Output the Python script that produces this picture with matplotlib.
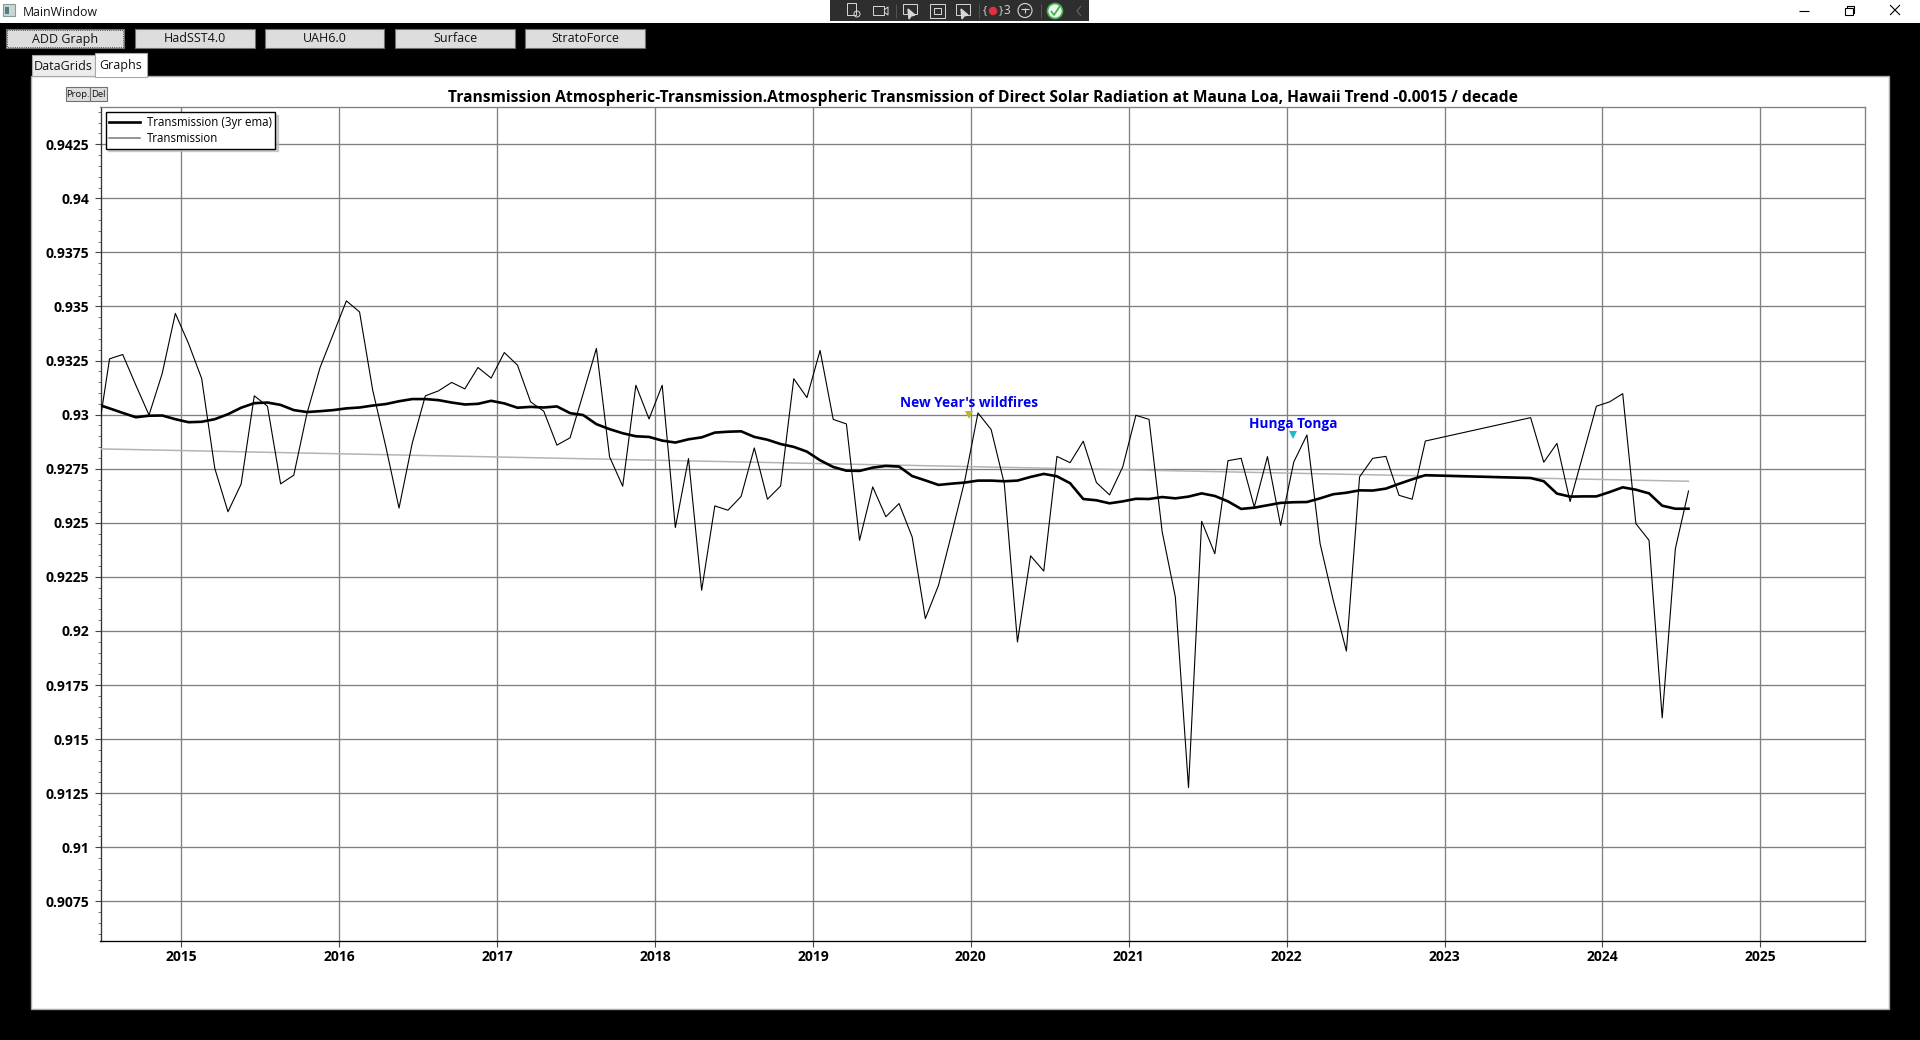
import matplotlib
matplotlib.use('Agg')
import matplotlib.pyplot as plt
import numpy as np
from matplotlib.lines import Line2D
from matplotlib.patches import Rectangle, Polygon, Circle
from matplotlib.ticker import MultipleLocator, FuncFormatter

plt.rcParams['font.family'] = ['Open Sans', 'DejaVu Sans']

# monthly readings, None = month with no data (gap late 2022 - mid 2023)
start_year = 2014.462
transmission = [
    0.9286, 0.93258, 0.93278, 0.93136, 0.92998, 0.9319, 0.93468, 0.93329, 0.93167, 0.92751,
    0.92551, 0.92679, 0.93087, 0.93039, 0.9268, 0.9272, 0.93005, 0.93218, 0.93372, 0.93526,
    0.93475, 0.93113, 0.92851, 0.92568, 0.92867, 0.93087, 0.9311, 0.93149, 0.93119, 0.93218,
    0.93169, 0.93287, 0.93229, 0.93059, 0.93016, 0.92859, 0.92893, 0.93098, 0.93306, 0.92805,
    0.92669, 0.93136, 0.9298, 0.93136, 0.92478, 0.92797, 0.92188, 0.92578, 0.92558, 0.92622,
    0.92846, 0.92609, 0.9267, 0.93166, 0.93079, 0.93297, 0.92978, 0.92957, 0.92419, 0.92666,
    0.92528, 0.92589, 0.92434, 0.92057, 0.92211, 0.9245, 0.92696, 0.93008, 0.92931, 0.92681,
    0.91949, 0.92347, 0.92277, 0.92807, 0.92778, 0.92877, 0.92686, 0.92629, 0.92758, 0.92997,
    0.92978, 0.92458, 0.92157, 0.91276, 0.92507, 0.92357, 0.92787, 0.92798, 0.92573, 0.92806,
    0.92488, 0.92781, 0.92906, 0.92404, 0.92142, 0.91907, 0.92712, 0.92798, 0.92807, 0.92627,
    0.92609, 0.92878, None, None, None, None, None, None, None, 0.92986,
    0.9278, 0.92867, 0.92598, 0.92818, 0.93039, 0.93059, 0.93097, 0.92496, 0.92419, 0.91598,
    0.9238, 0.92647,
]
transmission_ema = [
    0.93049, 0.93029, 0.93008, 0.92988, 0.92995, 0.92996, 0.92979, 0.92965, 0.92967, 0.92979,
    0.93002, 0.93032, 0.93053, 0.93056, 0.93045, 0.93021, 0.93012, 0.93016, 0.93021, 0.93029,
    0.93033, 0.93042, 0.93049, 0.93062, 0.93072, 0.93072, 0.93067, 0.93056, 0.93047, 0.9305,
    0.93064, 0.93052, 0.93032, 0.93036, 0.93033, 0.93038, 0.93007, 0.92998, 0.92956, 0.92933,
    0.92914, 0.929, 0.92897, 0.9288, 0.92871, 0.92886, 0.92895, 0.92917, 0.92921, 0.92923,
    0.92897, 0.92884, 0.92864, 0.92851, 0.92829, 0.92789, 0.92758, 0.92741, 0.9274, 0.92755,
    0.92763, 0.9276, 0.92716, 0.92696, 0.92675, 0.92681, 0.92686, 0.92695, 0.92695, 0.92692,
    0.92695, 0.92712, 0.92726, 0.92715, 0.92683, 0.9261, 0.92604, 0.9259, 0.92599, 0.92611,
    0.9261, 0.92619, 0.92613, 0.92621, 0.92636, 0.92624, 0.92599, 0.92564, 0.9257, 0.92581,
    0.92592, 0.92595, 0.92596, 0.92613, 0.92632, 0.92639, 0.9265, 0.92649, 0.92658, 0.9268,
    0.92701, 0.9272, None, None, None, None, None, None, None, 0.92707,
    0.92692, 0.92635, 0.92621, 0.92622, 0.92622, 0.92642, 0.92664, 0.92653, 0.92636, 0.92579,
    0.92565, 0.92565,
]
trend_years = [2014.462, 2024.545]
trend_values = [0.92842, 0.92692]

event_names = ["New Year's wildfires", 'Hunga Tonga']
event_years = [2019.99, 2022.04]
event_values = [0.93, 0.92904]
event_colors = ['#b9b92a', '#22b8cc']

year_ticks = list(range(2015, 2026))
button_names = ['ADD Graph', 'HadSST4.0', 'UAH6.0', 'Surface', 'StratoForce']
title = ('Transmission Atmospheric-Transmission.Atmospheric Transmission of Direct '
         'Solar Radiation at Mauna Loa, Hawaii Trend -0.0015 / decade')


def box(ax, x0, y0, x1, y1, face, edge=None, lw=0.8, ls='-', z=1):
    ax.add_patch(Rectangle((x0, y0), x1 - x0, y1 - y0, facecolor=face,
                           edgecolor=edge if edge else 'none', linewidth=lw, linestyle=ls, zorder=z))


def seg(ax, xs, ys, color='black', lw=0.8, z=3):
    ax.plot(xs, ys, color=color, lw=lw, zorder=z, solid_capstyle='butt')


def draw_window(ax):
    # title bar and window buttons
    box(ax, 0, 0, 1920, 23, 'white')
    box(ax, 3, 4, 15, 16, '#c9d6d6', '#8a9a9a')
    box(ax, 5, 7, 9, 14, '#4f7f7f')
    ax.text(23, 12, 'MainWindow', fontsize=8.8, va='center', ha='left', color='#111111')
    seg(ax, [1799, 1809], [10.5, 10.5])
    box(ax, 1845, 8, 1853, 15, 'white', 'black', 0.8)
    seg(ax, [1847, 1847, 1854, 1854, 1853], [8, 6, 6, 13, 13])
    seg(ax, [1890, 1900], [5, 15])
    seg(ax, [1890, 1900], [15, 5])

    # developer toolbar
    box(ax, 830, 0, 1089, 21, '#2e2e2e')
    ic = '#d8d8d8'
    box(ax, 847, 3, 856, 15, 'none', ic, 0.7, z=3)
    ax.add_patch(Circle((857, 14), 3, fill=False, edgecolor=ic, lw=0.7, zorder=3))
    box(ax, 873, 6, 884, 15, 'none', ic, 0.7, z=3)
    seg(ax, [884, 888, 888, 884], [10, 7, 15, 12], ic, 0.7)
    seg(ax, [896, 896], [4, 18], '#555555', 0.7)
    box(ax, 903, 4, 917, 14, 'none', ic, 0.7, z=3)
    ax.add_patch(Polygon([[908, 9], [915, 15], [911, 16], [909, 19]], color=ic, zorder=4))
    box(ax, 930, 4, 945, 18, 'none', ic, 0.7, z=3)
    box(ax, 934, 8, 941, 14, 'none', ic, 0.7, z=3)
    box(ax, 956, 4, 970, 15, 'none', ic, 0.7, z=3)
    ax.add_patch(Polygon([[961, 9], [968, 15], [964, 16], [962, 19]], color=ic, zorder=4))
    seg(ax, [979, 979], [4, 18], '#555555', 0.7)
    ax.add_patch(Circle((993, 11), 3.5, color='#e03040', zorder=4))
    ax.text(985, 10.5, '{', color=ic, fontsize=8, va='center', ha='center', zorder=4)
    ax.text(1001, 10.5, '}', color=ic, fontsize=8, va='center', ha='center', zorder=4)
    ax.text(1007, 11, '3', color=ic, fontsize=8.5, va='center', ha='center', zorder=4)
    ax.add_patch(Circle((1025, 10.5), 7, fill=False, edgecolor=ic, lw=0.8, zorder=4))
    seg(ax, [1025, 1025], [8, 13], ic, 0.8, 4)
    seg(ax, [1021, 1029], [9, 9], ic, 0.8, 4)
    seg(ax, [1041, 1041], [4, 18], '#555555', 0.7)
    ax.add_patch(Circle((1055, 11), 7.5, facecolor='#e8f5e8', edgecolor='#3fae49', lw=1.2, zorder=4))
    seg(ax, [1051, 1054, 1060], [11, 15, 6], '#3fae49', 1.2, 5)
    seg(ax, [1081, 1077, 1081], [6, 11, 16], '#666666', 0.8)

    # top buttons
    spans = [(5.5, 124), (135, 254.5), (265, 384), (395, 515), (525, 645)]
    for name, (x0, x1) in zip(button_names, spans):
        box(ax, x0, 28.5, x1, 47.5, '#dddddd', '#707070', 0.8)
        ax.text((x0 + x1) / 2, 39, name, fontsize=9, ha='center', va='center', color='#111111', zorder=3)
    box(ax, 6.5, 29.5, 123, 46.5, 'none', '#222222', 0.6, ':', z=3)

    # tab panel
    box(ax, 30.5, 75.5, 1889, 1009, 'white', '#a8a8a8', 1)
    box(ax, 32, 55, 94.5, 75.5, '#ececec', '#a8a8a8', 0.8)
    ax.text(63.5, 66, 'DataGrids', fontsize=9, ha='center', va='center', color='#111111', zorder=3)
    box(ax, 94.5, 53, 147, 76.5, 'white', '#a8a8a8', 0.8, z=2)
    box(ax, 95.5, 74, 146, 77, 'white', z=2)
    ax.text(120.5, 65, 'Graphs', fontsize=9, ha='center', va='center', color='#111111', zorder=3)

    # small graph buttons
    box(ax, 65.5, 87, 89.5, 101, '#dddddd', '#707070', 0.8, z=2)
    box(ax, 89.5, 87, 106.5, 101, '#dddddd', '#707070', 0.8, z=2)
    ax.text(77.5, 94.5, 'Prop.', fontsize=6.8, ha='center', va='center', color='#111111', zorder=3)
    ax.text(98, 94.5, 'Del', fontsize=6.8, ha='center', va='center', color='#111111', zorder=3)


fig = plt.figure(figsize=(19.2, 10.4), dpi=100, facecolor='black')

window = fig.add_axes([0, 0, 1, 1], zorder=0)
window.set_xlim(0, 1920)
window.set_ylim(1040, 0)
window.axis('off')
draw_window(window)

ax = fig.add_axes([100.5 / 1920, 1 - 941.3 / 1040, 1764.8 / 1920, 834 / 1040], zorder=1)
ax.set_facecolor('white')

months = np.arange(len(transmission))
years = start_year + months / 12
has_data = np.array([v is not None for v in transmission])
thin = np.array([v for v in transmission if v is not None])
ema = np.array([v for v in transmission_ema if v is not None])

ax.plot(trend_years, trend_values, color='#b4b4b4', lw=1.1, zorder=3)
ax.plot(years[has_data], thin, color='black', lw=0.8, zorder=4)
ax.plot(years[has_data], ema, color='black', lw=1.9, zorder=5)

for name, yr, val, col in zip(event_names, event_years, event_values, event_colors):
    ax.plot([yr], [val], marker='v', color=col, ms=6, mew=0, ls='none', zorder=6)
    ax.annotate(name, (yr, val), xytext=(0, 3.5), textcoords='offset points', ha='center', va='bottom',
                color='#0000ee', fontsize=9.8, fontweight='bold', zorder=7)

ax.set_xlim(2014.488, 2025.665)
ax.set_ylim(0.90565, 0.94421)
ax.set_xticks(year_ticks)
ax.xaxis.set_major_formatter(FuncFormatter(lambda v, p: '%d' % v))
ax.yaxis.set_major_locator(MultipleLocator(0.0025))
ax.yaxis.set_minor_locator(MultipleLocator(0.0005))
ax.yaxis.set_major_formatter(FuncFormatter(lambda v, p: '%g' % round(v, 4)))
ax.grid(True, which='major', color='#808080', lw=0.95, zorder=1)
ax.set_axisbelow(True)
ax.tick_params(axis='x', which='major', length=4, width=0.8, color='#444444', pad=2, labelsize=10)
ax.tick_params(axis='y', which='major', length=4, width=0.8, color='#444444', pad=4, labelsize=10)
ax.tick_params(axis='y', which='minor', length=2, width=0.7, color='#777777')
for lab in ax.get_xticklabels() + ax.get_yticklabels():
    lab.set_fontweight('bold')
ax.spines['left'].set_color('#333333')
ax.spines['bottom'].set_color('black')
ax.spines['top'].set_color('#808080')
ax.spines['right'].set_color('#808080')
for s in ax.spines.values():
    s.set_linewidth(0.95)

ax.set_title(title, fontsize=11.25, fontweight='bold', pad=4, color='black')

handles = [Line2D([], [], color='black', lw=1.9), Line2D([], [], color='#777777', lw=1.1)]
leg = ax.legend(handles, ['Transmission (3yr ema)', 'Transmission'], loc='upper left',
                bbox_to_anchor=(5 / 1764.8, 1 - 5 / 834), borderaxespad=0, fancybox=False,
                edgecolor='black', framealpha=1, fontsize=8.3, handlelength=2.7, handletextpad=0.6,
                labelspacing=0.3, borderpad=0.3, shadow={'color': '#bbbbbb', 'alpha': 0.7})
leg.get_frame().set_linewidth(1)
leg.set_zorder(10)

fig.savefig('out.png', dpi=100, facecolor='black')
